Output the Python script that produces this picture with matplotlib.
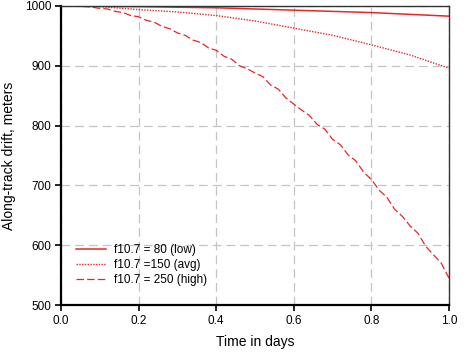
import matplotlib
matplotlib.use("Agg")
import matplotlib.pyplot as plt

plt.rcParams['font.family'] = ['Liberation Sans', 'DejaVu Sans']

# time in days
t_low = [0.0, 0.2, 0.4, 0.6, 0.8, 1.0]
drift_low = [1000, 999, 997, 993, 989, 983]

t_avg = [0.0, 0.1, 0.2, 0.3, 0.4, 0.5, 0.6, 0.7, 0.8, 0.9, 1.0]
drift_avg = [1000, 999, 994, 990, 984, 975, 963, 951, 935, 918, 896]

t_high = [0.00, 0.02, 0.04, 0.06, 0.08, 0.10, 0.12, 0.14, 0.16, 0.18,
          0.20, 0.22, 0.24, 0.26, 0.28, 0.30, 0.32, 0.34, 0.36, 0.38,
          0.40, 0.42, 0.44, 0.46, 0.48, 0.50, 0.52, 0.54, 0.56, 0.58,
          0.60, 0.62, 0.64, 0.66, 0.68, 0.70, 0.72, 0.74, 0.76, 0.78,
          0.80, 0.82, 0.84, 0.86, 0.88, 0.90, 0.92, 0.94, 0.96, 0.98, 1.00]
drift_high = [1000, 1000, 999.5, 999, 998, 996, 995, 991, 989, 984,
              982, 976, 973, 966, 962, 955, 951, 943, 939, 930,
              926, 916, 911, 900, 895, 888, 882, 868, 861, 846,
              836, 826, 817, 802, 794, 777, 768, 751, 741, 722,
              710, 692, 680, 660, 648, 632, 620, 598, 584, 570, 545]

red = '#e8262a'

fig = plt.figure(figsize=(4.74, 3.53), dpi=100)
ax = fig.add_axes([61/474, 1 - 305/353, 388/474, 299/353])

ax.plot(t_low, drift_low, color=red, lw=1.1, ls='-', label='f10.7 = 80 (low)')
ax.plot(t_avg, drift_avg, color=red, lw=1.0, ls=(0, (1, 1)), label='f10.7 =150 (avg)')
ax.plot(t_high, drift_high, color=red, lw=0.9, ls=(0, (6, 2.5)), label='f10.7 = 250 (high)')

ax.set_xlim(0, 1)
ax.set_ylim(500, 1000)
ax.set_xticks([0.0, 0.2, 0.4, 0.6, 0.8, 1.0])
ax.set_xticklabels(['0.0', '0.2', '0.4', '0.6', '0.8', '1.0'])
ax.set_yticks([500, 600, 700, 800, 900, 1000])

ax.grid(True, color='#c4c4c4', ls=(0, (7, 4)), lw=0.9)
ax.set_axisbelow(True)

for side in ['left', 'bottom']:
    ax.spines[side].set_linewidth(1.6)
    ax.spines[side].set_color('black')
for side in ['top', 'right']:
    ax.spines[side].set_linewidth(1.0)
    ax.spines[side].set_color('#333333')

ax.tick_params(axis='both', direction='out', length=4, width=1.2, labelsize=8.5,
               colors='black', pad=3)
ax.tick_params(top=False, right=False)

ax.set_xlabel('Time in days', fontsize=10, labelpad=6)
ax.set_ylabel('Along-track drift, meters', fontsize=10, labelpad=6)

ax.legend(loc='lower left', bbox_to_anchor=(0.01, 0.027), frameon=False, fontsize=8.5,
          handlelength=2.6, handletextpad=0.7, labelspacing=0.25)

fig.savefig('out.png', dpi=100)
